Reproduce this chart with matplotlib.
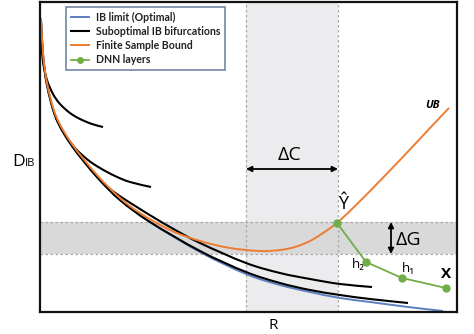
import matplotlib
matplotlib.use("Agg")
import matplotlib.pyplot as plt
from matplotlib.lines import Line2D
from matplotlib.path import Path
from matplotlib.patches import PathPatch

# ---- data (conceptual diagram values) ----
ib_x = [1, 3, 7, 16, 32, 57, 80, 110, 160, 206, 240, 270, 300, 330, 368, 403]
ib_y = [292, 257, 227, 194, 166, 135, 112, 90, 60, 38, 27, 20, 14, 10, 5, 1]

sub1_x = [1, 3, 7, 16, 32, 57, 80, 110, 160, 206, 240, 270, 300, 330, 368]
sub1_y = [292, 257, 227, 194, 166, 135, 112, 90, 61, 40, 29, 22, 17, 13, 9]

sub2_x = [50, 70, 100, 130, 160, 206, 240, 270, 300, 332]
sub2_y = [143, 123, 103, 85, 69, 49, 39, 33, 28, 25]

sub3_x = [1, 3, 7, 13, 20, 30, 40, 52, 63]
sub3_y = [272, 250, 232, 218, 208, 199, 193, 188, 185]

sub4_x = [16, 24, 35, 48, 60, 75, 90, 111]
sub4_y = [194, 179, 164, 152, 144, 136, 130, 125]

fsb_x = [1, 3, 7, 16, 32, 57, 80, 100, 130, 160, 190, 220, 240, 255, 270, 283, 297,
         315, 330, 360, 390, 409]
fsb_y = [294, 259, 229, 196, 168, 137, 114, 99, 82, 71, 64, 61, 62, 65, 71, 79, 89,
         106, 121, 152, 184, 204]

dnn_x = [297, 326, 362, 406]
dnn_y = [89, 50, 34, 24]
dnn_labels = ["Ŷ", "h₂", "h₁", "X"]

band_c = [206, 298]   # ΔC band (R)
band_g = [58, 90]     # ΔG band (D_IB)

legend_labels = ["IB limit (Optimal)", "Suboptimal IB bifurcations",
                 "Finite Sample Bound", "DNN layers"]

BLUE = "#5b7fc0"
ORANGE = "#ed7d31"
GREEN = "#70ad47"
FONT = "Open Sans"
LEGFONT = "Lato"


def smooth_path(xs, ys):
    """Catmull-Rom curve through the given points, drawn as cubic Bezier."""
    pts = list(zip(xs, ys))
    verts = [pts[0]]
    codes = [Path.MOVETO]
    n = len(pts)
    for i in range(n - 1):
        p0 = pts[i - 1] if i > 0 else pts[i]
        p1 = pts[i]
        p2 = pts[i + 1]
        p3 = pts[i + 2] if i + 2 < n else pts[i + 1]
        c1 = (p1[0] + (p2[0] - p0[0]) / 6, p1[1] + (p2[1] - p0[1]) / 6)
        c2 = (p2[0] - (p3[0] - p1[0]) / 6, p2[1] - (p3[1] - p1[1]) / 6)
        verts += [c1, c2, p2]
        codes += [Path.CURVE4] * 3
    return Path(verts, codes)


def draw_curve(ax, xs, ys, color, lw, z):
    ax.add_patch(PathPatch(smooth_path(xs, ys), facecolor="none", edgecolor=color,
                           lw=lw, zorder=z, capstyle="butt"))


fig = plt.figure(figsize=(4.74, 3.34), dpi=100)
W, H = 474, 334
ax = fig.add_axes([40 / W, (334 - 312) / H, 417 / W, 310.5 / H])
ax.set_xlim(0, 417)
ax.set_ylim(0, 310.5)
ax.set_xticks([])
ax.set_yticks([])
for s in ax.spines.values():
    s.set_linewidth(1.6)
    s.set_color("#111111")
    s.set_zorder(10)

# bands
ax.axvspan(band_c[0], band_c[1], color="#ececee", zorder=0, lw=0)
ax.axhspan(band_g[0], band_g[1], color="#d9d9d9", zorder=0.5, lw=0)
for v in band_c:
    ax.axvline(v, color="#a8a8a8", lw=0.9, ls=(0, (2, 2)), zorder=1)
for v in band_g:
    ax.axhline(v, color="#a8a8a8", lw=0.9, ls=(0, (2, 2)), zorder=1)

# curves
draw_curve(ax, ib_x, ib_y, BLUE, 1.4, 2)
for xs, ys in [(sub1_x, sub1_y), (sub2_x, sub2_y), (sub3_x, sub3_y), (sub4_x, sub4_y)]:
    draw_curve(ax, xs, ys, "black", 1.5, 3)
draw_curve(ax, fsb_x, fsb_y, ORANGE, 1.4, 4)
ax.plot(dnn_x, dnn_y, color=GREEN, lw=1.3, marker="o", ms=5, zorder=5)

# annotations
ax.annotate("", xy=(band_c[0], 143), xytext=(band_c[1], 143),
            arrowprops=dict(arrowstyle="<|-|>", color="black", lw=1.3,
                            mutation_scale=8, shrinkA=0, shrinkB=0))
ax.text(sum(band_c) / 2 - 2, 157, "ΔC", fontsize=14, family=FONT, ha="center", va="center")
ax.annotate("", xy=(351, band_g[0]), xytext=(351, band_g[1]),
            arrowprops=dict(arrowstyle="<|-|>", color="black", lw=1.3,
                            mutation_scale=8, shrinkA=0, shrinkB=0))
ax.text(368, 72, "ΔG", fontsize=14, family=FONT, ha="center", va="center")
ax.text(392, 206, "UB", fontsize=8, family=FONT, weight="bold", style="italic",
        ha="center", va="center")

lab_pos = [(303, 108, 13, "normal"), (318, 47, 9.5, "normal"),
           (368, 44, 9.5, "normal"), (406, 38, 11, "bold")]
for lab, (x, y, fs, wt) in zip(dnn_labels, lab_pos):
    ax.text(x, y, lab, fontsize=fs, family=FONT, weight=wt, ha="center", va="center")

# axis labels
fig.text(19 / W, 1 - 166 / H, "D", fontsize=12.5, family=FONT, ha="center", va="baseline")
fig.text(24.5 / W, 1 - 166 / H, "IB", fontsize=8, family=FONT, ha="left", va="baseline")
fig.text(273 / W, 1 - 329 / H, "R", fontsize=11, family=FONT, ha="center", va="baseline")

# legend
handles = [Line2D([], [], color=BLUE, lw=1.4),
           Line2D([], [], color="black", lw=1.5),
           Line2D([], [], color=ORANGE, lw=1.4),
           Line2D([], [], color=GREEN, lw=1.3, marker="o", ms=4, markevery=[0, -1])]
leg = ax.legend(handles, legend_labels, loc="upper left",
                bbox_to_anchor=(26 / 417, (312 - 7) / 310.5), borderaxespad=0,
                frameon=True, fancybox=False, handlelength=1.7,
                handletextpad=0.7, labelspacing=0.3, borderpad=0.45,
                prop=dict(family=LEGFONT, weight="bold", size=7.6))
leg.get_frame().set_edgecolor("#52688f")
leg.get_frame().set_linewidth(1.2)
leg.set_zorder(11)
for t in leg.get_texts():
    t.set_color("#222222")

fig.savefig("out.png", dpi=100)
